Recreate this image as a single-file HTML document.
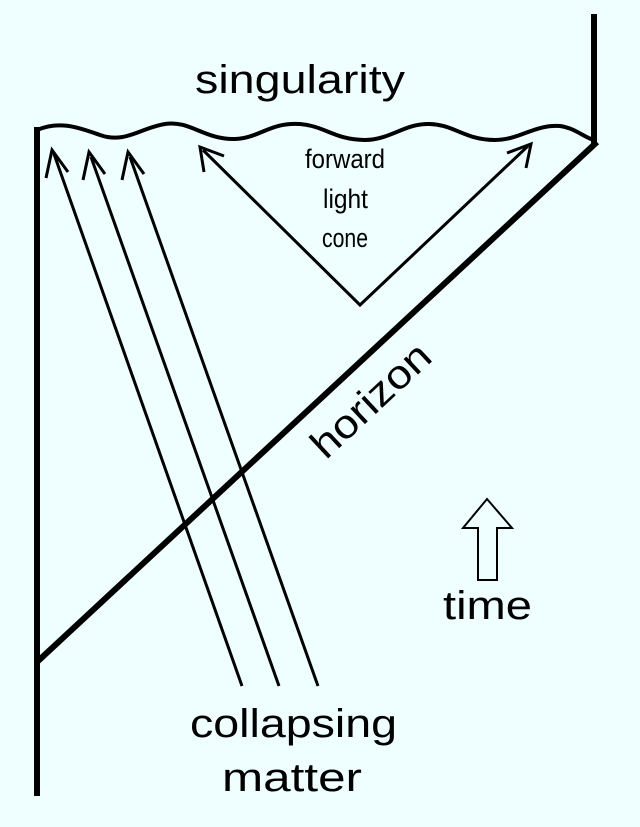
<!DOCTYPE html>
<html><head><style>
html,body{margin:0;padding:0;background:#efffff;}
svg{display:block}
text{font-family:"Liberation Sans",sans-serif;fill:#000}
</style></head><body>
<svg width="640" height="827" viewBox="0 0 640 827">
<rect width="640" height="827" fill="#efffff"/>
<g stroke="#000" fill="none" stroke-linecap="butt">
<line x1="37" y1="127" x2="37" y2="796" stroke-width="6"/>
<line x1="594" y1="14" x2="594" y2="144" stroke-width="6"/>
<line x1="37" y1="662" x2="597" y2="142" stroke-width="6"/>
<path d="M37,130 C60,120 80,128 100,135 C125,144 140,128 165,124 C190,120 205,140 235,139 C260,138 270,122 300,124 C325,126 335,140 365,140 C390,140 405,123 430,124 C455,125 465,140 495,140 C520,140 535,124 560,126 C575,128 585,138 594,140" stroke-width="4"/>
<g stroke-width="3">
<line x1="242" y1="686" x2="54" y2="154"/>
<polyline points="46,178 52,150 68,172"/>
<line x1="279" y1="686" x2="91" y2="157"/>
<polyline points="83,180 89,152 105,174"/>
<line x1="318" y1="686" x2="130" y2="157"/>
<polyline points="122,180 128,152 144,174"/>
<polyline points="203,150 360,305 528,146"/>
<polyline points="204,172 200,147 224,156"/>
<polyline points="507,153 531,144 526,168"/>
</g>
<path d="M487,499 L512,528 L497,528 L497,580 L478,580 L478,528 L463,528 Z" stroke-width="2"/>
</g>
<text x="195" y="93" font-size="40" textLength="210" lengthAdjust="spacingAndGlyphs">singularity</text>
<text x="305" y="168" font-size="27" textLength="80" lengthAdjust="spacingAndGlyphs">forward</text>
<text x="323" y="208" font-size="27" textLength="45" lengthAdjust="spacingAndGlyphs">light</text>
<text x="322" y="247" font-size="27" textLength="46" lengthAdjust="spacingAndGlyphs">cone</text>
<text transform="translate(380,410) rotate(-43)" font-size="40" text-anchor="middle" textLength="148" lengthAdjust="spacingAndGlyphs">horizon</text>
<text x="443" y="619" font-size="40" textLength="89" lengthAdjust="spacingAndGlyphs">time</text>
<text x="190" y="737" font-size="40" textLength="207" lengthAdjust="spacingAndGlyphs">collapsing</text>
<text x="222" y="791" font-size="40" textLength="140" lengthAdjust="spacingAndGlyphs">matter</text>
</svg>
</body></html>
